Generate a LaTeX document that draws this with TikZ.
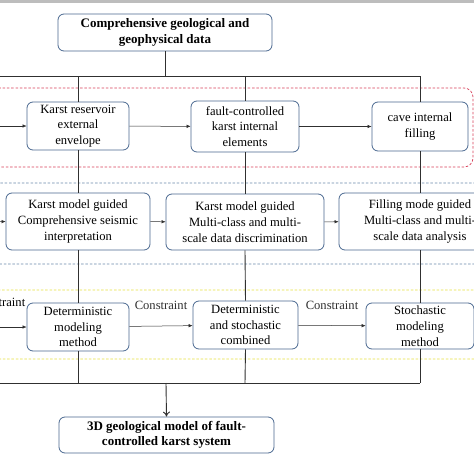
\documentclass[tikz,border=0pt]{standalone}
\usepackage{fontspec}
\setmainfont{Liberation Serif}
\usepackage{xcolor}
\definecolor{boxBorder}{HTML}{4A6890}
\definecolor{lineDark}{HTML}{303030}
\definecolor{redDash}{HTML}{D8405A}
\definecolor{blueDash}{HTML}{6A88AA}
\definecolor{yellowDash}{HTML}{E6E040}
\definecolor{topBar}{HTML}{BDBDBD}
\usetikzlibrary{positioning,calc,arrows.meta}
\tikzset{
  stepBox/.style={
    rectangle,
    rounded corners=6pt,
    draw=boxBorder,
    fill=white,
    line width=0.8pt,
    align=center,
    inner sep=1pt,
    font=\fontsize{12.6}{15.8}\selectfont
 },
  mainBox/.style={
    stepBox,
    font=\fontsize{13}{15.5}\selectfont\bfseries
 },
  arrowLine/.style={
    -{Latex[length=4pt,width=3.5pt]},
    line width=0.5pt,
    color=lineDark
 },
  busLine/.style={
    line width=0.9pt,
    color=lineDark
 },
  bandLine/.style={
    dash pattern=on 2.5pt off 1.8pt,
    line width=0.7pt,
    rounded corners=9pt
 },
  labelText/.style={
    font=\fontsize{12.6}{14}\selectfont,
    inner sep=1pt
 }
}

\begin{document}
\begin{tikzpicture}[x=1pt,y=-1pt]

  \useasboundingbox (0,0) rectangle (474,474);
  \clip (0,0) rectangle (474,474);
  \fill[white] (0,0) rectangle (474,474);
  \fill[topBar] (0,0) rectangle (474,2.5);

  % dashed bands
  \draw[bandLine, redDash] (-40,88) rectangle (473,167);
  \draw[bandLine, blueDash] (-40,183) rectangle (500,264);
  \draw[bandLine, yellowDash] (-40,290) rectangle (500,359);

  % input data
  \node[mainBox, minimum width=214pt, minimum height=37pt] (data) at (165,32.5)
    {Comprehensive geological and\\geophysical data};

  % karst elements
  \node[stepBox, minimum width=102pt, minimum height=48pt] (envelope) at (78,126)
    {Karst reservoir\\external\\envelope};
  \node[stepBox, minimum width=108pt, minimum height=51pt] (elements) at (245,126.5)
    {fault-controlled\\karst internal\\elements};
  \node[stepBox, minimum width=96pt, minimum height=49pt] (filling) at (420,126.5)
    {cave internal\\filling};

  % data analysis
  \node[stepBox, minimum width=144pt, minimum height=57pt] (seismic) at (78,221.5)
    {Karst model guided\\Comprehensive seismic\\interpretation};
  \node[stepBox, minimum width=158pt, minimum height=56pt] (discrim) at (245,222)
    {Karst model guided\\Multi-class and multi-\\scale data discrimination};
  \node[stepBox, minimum width=162pt, minimum height=57pt] (analysis) at (420,221.5)
    {Filling mode guided\\Multi-class and multi-\\scale data analysis};

  % modeling methods
  \node[stepBox, minimum width=102pt, minimum height=48pt] (determ) at (78,327)
    {Deterministic\\modeling\\method};
  \node[stepBox, minimum width=105pt, minimum height=48pt] (combined) at (245.5,325)
    {Deterministic\\and stochastic\\combined};
  \node[stepBox, minimum width=108pt, minimum height=46pt] (stoch) at (420,326)
    {Stochastic\\modeling\\method};

  % result
  \node[mainBox, minimum width=215pt, minimum height=36pt] (model) at (166.5,435)
    {3D geological model of fault-\\controlled karst system};

  % bus points
  \coordinate (topJoin) at (165,76);
  \coordinate (topLeft) at (-10,76);
  \coordinate (envTop) at (78,76);
  \coordinate (eleTop) at (245,76);
  \coordinate (filTop) at (420,76);
  \coordinate (botJoin) at (166,383);
  \coordinate (botLeft) at (-10,383);
  \coordinate (detBot) at (78,383);
  \coordinate (comBot) at (245,383);
  \coordinate (stoBot) at (420,383);

  \draw[busLine] (data.south) -- (topJoin);
  \draw[busLine] (topLeft) -- (filTop);
  \draw[busLine] (envTop) -- (envelope.north);
  \draw[busLine] (eleTop) -- (elements.north);
  \draw[busLine] (filTop) -- (filling.north);

  % columns
  \draw[busLine] (envelope.south) -- (seismic.north);
  \draw[busLine] (seismic.south) -- (determ.north);
  \draw[busLine] (determ.south) -- (detBot);
  \draw[busLine] (elements.south) -- (discrim.north);
  \draw[busLine] (discrim.south) -- (combined.north);
  \draw[busLine] (combined.south) -- (comBot);
  \draw[busLine] (filling.south) -- (analysis.north);
  \draw[busLine] (analysis.south) -- (stoch.north);
  \draw[busLine] (stoch.south) -- (stoBot);

  \draw[busLine] (botLeft) -- (stoBot);
  \draw[busLine, -{To[length=5pt,width=7pt]}] (botJoin) -- (model.north);

  % rows
  \coordinate (inEnv) at (-10,126);
  \coordinate (inSeis) at (-10,222);
  \coordinate (inDet) at (-10,327);
  \draw[arrowLine] (inEnv) -- (envelope.west);
  \draw[arrowLine] (envelope) -- (elements);
  \draw[arrowLine] (elements) -- (filling);
  \draw[arrowLine] (inSeis) -- (seismic.west);
  \draw[arrowLine] (seismic) -- (discrim);
  \draw[arrowLine] (discrim) -- (analysis);
  \draw[arrowLine] (inDet) -- (determ.west);
  \draw[arrowLine] (determ) -- node[labelText, above=15pt] (conA) {Constraint} (combined);
  \draw[arrowLine] (combined) -- node[labelText, above=15pt] (conB) {Constraint} (stoch);
  \node[labelText] (conIn) at (-1,302) {Constraint};

\end{tikzpicture}
\end{document}
